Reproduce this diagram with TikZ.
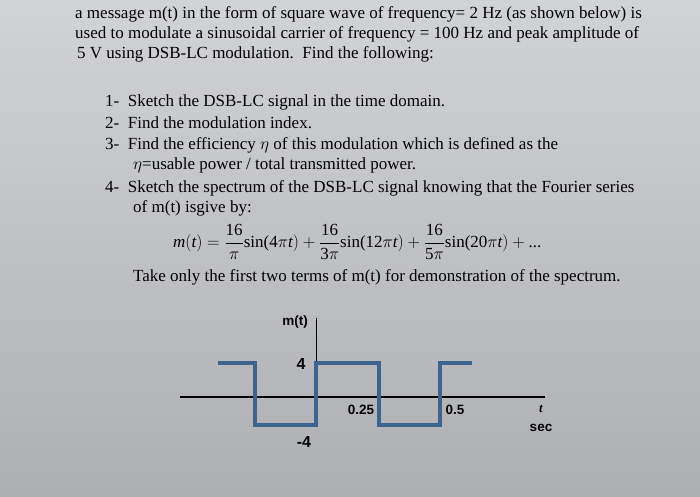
\documentclass[tikz,border=0pt]{standalone}
\usepackage{amsmath}
\usepackage{fontspec}
\setmainfont{Liberation Serif}
\setsansfont{Liberation Sans}
\definecolor{bg}{RGB}{205,206,210}
\definecolor{wave}{RGB}{60,100,140}
\begin{document}
\begin{tikzpicture}[x=1pt,y=-1pt,
  txt/.style={anchor=west,inner sep=0pt,font=\fontsize{17}{19}\selectfont},
  lab/.style={inner sep=0pt,font=\sffamily\bfseries\fontsize{13.5}{15}\selectfont}]
\shade[top color=bg!90!white,bottom color=bg!85!black] (0,0) rectangle (700,496);
\useasboundingbox (0,0) rectangle (700,496);
\node[txt] (l1) at (75,14) {a message m(t) in the form of square wave of frequency= 2 Hz (as shown below) is};
\node[txt] (l2) at (75,34) {used to modulate a sinusoidal carrier of frequency = 100 Hz and peak amplitude of};
\node[txt] (l3) at (77,54) {5 V using DSB-LC modulation.\ \ Find the following:};
\node[txt] (i1) at (105,102) {1-\ \ Sketch the DSB-LC signal in the time domain.};
\node[txt] (i2) at (105,123) {2-\ \ Find the modulation index.};
\node[txt] (i3) at (105,145) {3-\ \ Find the efficiency $\eta$ of this modulation which is defined as the};
\node[txt] (i3b) at (133,165) {$\eta$=usable power / total transmitted power.};
\node[txt] (i4) at (105,188) {4-\ \ Sketch the spectrum of the DSB-LC signal knowing that the Fourier series};
\node[txt] (i4b) at (133,208) {of m(t) isgive by:};
\node[txt] (f) at (173,242) {$\textit{m}(\textit{t})=\dfrac{\text{16}}{\pi}\text{sin(4}\pi\textit{t})+\dfrac{\text{16}}{\text{3}\pi}\text{sin(12}\pi\textit{t})+\dfrac{\text{16}}{\text{5}\pi}\text{sin(20}\pi\textit{t})+\text{...}$};
\node[txt] (tk) at (133,277) {Take only the first two terms of m(t) for demonstration of the spectrum.};
% graph
\coordinate (xa) at (180,397); \coordinate (xb) at (545,397);
\coordinate (ya) at (316,318); \coordinate (yb) at (316,427);
\draw[line width=1.6pt] (xa) -- (xb);
\draw[line width=1pt] (ya) -- (yb);
\draw[wave,line width=3.2pt] (218,363) -- (255,363) -- (255,425) -- (316,425) -- (316,363) -- (379,363) -- (379,425) -- (440,425) -- (440,363) -- (472,363);
\node[lab] (mt) at (295,322) {m(t)};
\node[lab,font=\sffamily\bfseries\fontsize{16}{17}\selectfont] (four) at (301,364) {4};
\node[lab,font=\sffamily\bfseries\fontsize{16}{17}\selectfont] (mfour) at (304,442) {-4};
\node[lab] (q) at (361,410) {0.25};
\node[lab] (h) at (455,410) {0.5};
\node[lab,font=\itshape\bfseries\fontsize{13}{14}\selectfont] (t) at (541,409) {t};
\node[lab] (sec) at (541,428) {sec};
\end{tikzpicture}
\end{document}
